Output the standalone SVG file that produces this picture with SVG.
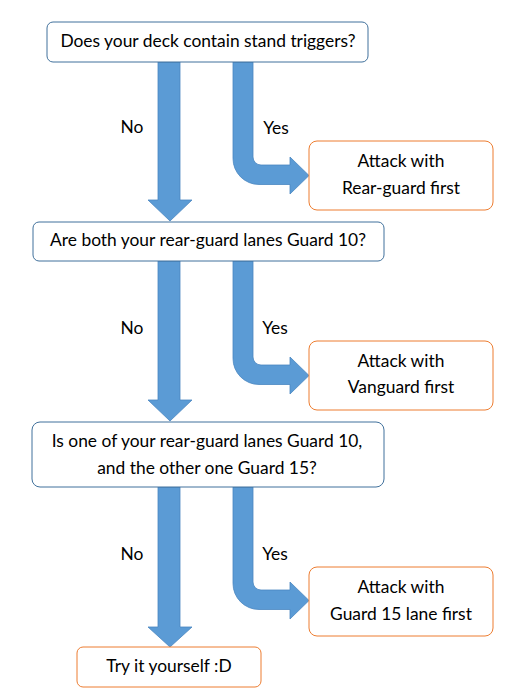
<svg xmlns="http://www.w3.org/2000/svg" width="509" height="700" viewBox="0 0 509 700">
<style>
.q{fill:#fff;stroke:#41719C;stroke-width:1}
.a{fill:#fff;stroke:#ED7D31;stroke-width:1}
.arr{fill:#5B9BD5;stroke:#4A86C0;stroke-width:0.8}
text{font-family:Lato,"Open Sans","Liberation Sans",sans-serif;font-size:17.4px;fill:#000;text-anchor:middle}
</style>
<rect width="509" height="700" fill="#fff"/>
<g id="connectors">
<path class="arr" d="M158,62 H180 V200 H192 L170,221 L148,200 H158 Z"/>
<path class="arr" d="M233,62 H253 V157 A8,8 0 0 0 261,165 H290 V157 L309,175.5 L290,194 V184.5 H259 A26,26 0 0 1 233,158.5 Z"/>
<path class="arr" d="M158,261 H180 V400 H192 L170,421 L148,400 H158 Z"/>
<path class="arr" d="M233,261 H253 V357 A8,8 0 0 0 261,365 H290 V357 L309,375.5 L290,394 V384.5 H259 A26,26 0 0 1 233,358.5 Z"/>
<path class="arr" d="M158,487 H180 V627 H192 L170,647 L148,627 H158 Z"/>
<path class="arr" d="M233,487 H253 V582 A8,8 0 0 0 261,590 H290 V582 L309,600.5 L290,619 V609.5 H259 A26,26 0 0 1 233,583.5 Z"/>
<text x="132" y="133">No</text>
<text x="276" y="134">Yes</text>
<text x="132" y="334">No</text>
<text x="275" y="334">Yes</text>
<text x="132" y="560">No</text>
<text x="275" y="560">Yes</text>
</g>
<g id="q1">
<rect class="q" x="47" y="22" width="321" height="40" rx="6"/>
<text x="208" y="47">Does your deck contain stand triggers?</text>
</g>
<g id="a1">
<rect class="a" x="309" y="141" width="184" height="69" rx="8"/>
<text x="401" y="167">Attack with</text>
<text x="401" y="194">Rear-guard first</text>
</g>
<g id="q2">
<rect class="q" x="33" y="222" width="351" height="39" rx="6"/>
<text x="208" y="246">Are both your rear-guard lanes Guard 10?</text>
</g>
<g id="a2">
<rect class="a" x="309" y="341" width="184" height="69" rx="8"/>
<text x="401" y="367">Attack with</text>
<text x="401" y="393">Vanguard first</text>
</g>
<g id="q3">
<rect class="q" x="32" y="422" width="352" height="65" rx="8"/>
<text x="207" y="447">Is one of your rear-guard lanes Guard 10,</text>
<text x="207" y="474">and the other one Guard 15?</text>
</g>
<g id="a3">
<rect class="a" x="309" y="567" width="184" height="69" rx="8"/>
<text x="401" y="593">Attack with</text>
<text x="401" y="620">Guard 15 lane first</text>
</g>
<g id="end">
<rect class="a" x="77" y="647" width="184" height="40" rx="6"/>
<text x="169" y="672">Try it yourself :D</text>
</g>
</svg>
